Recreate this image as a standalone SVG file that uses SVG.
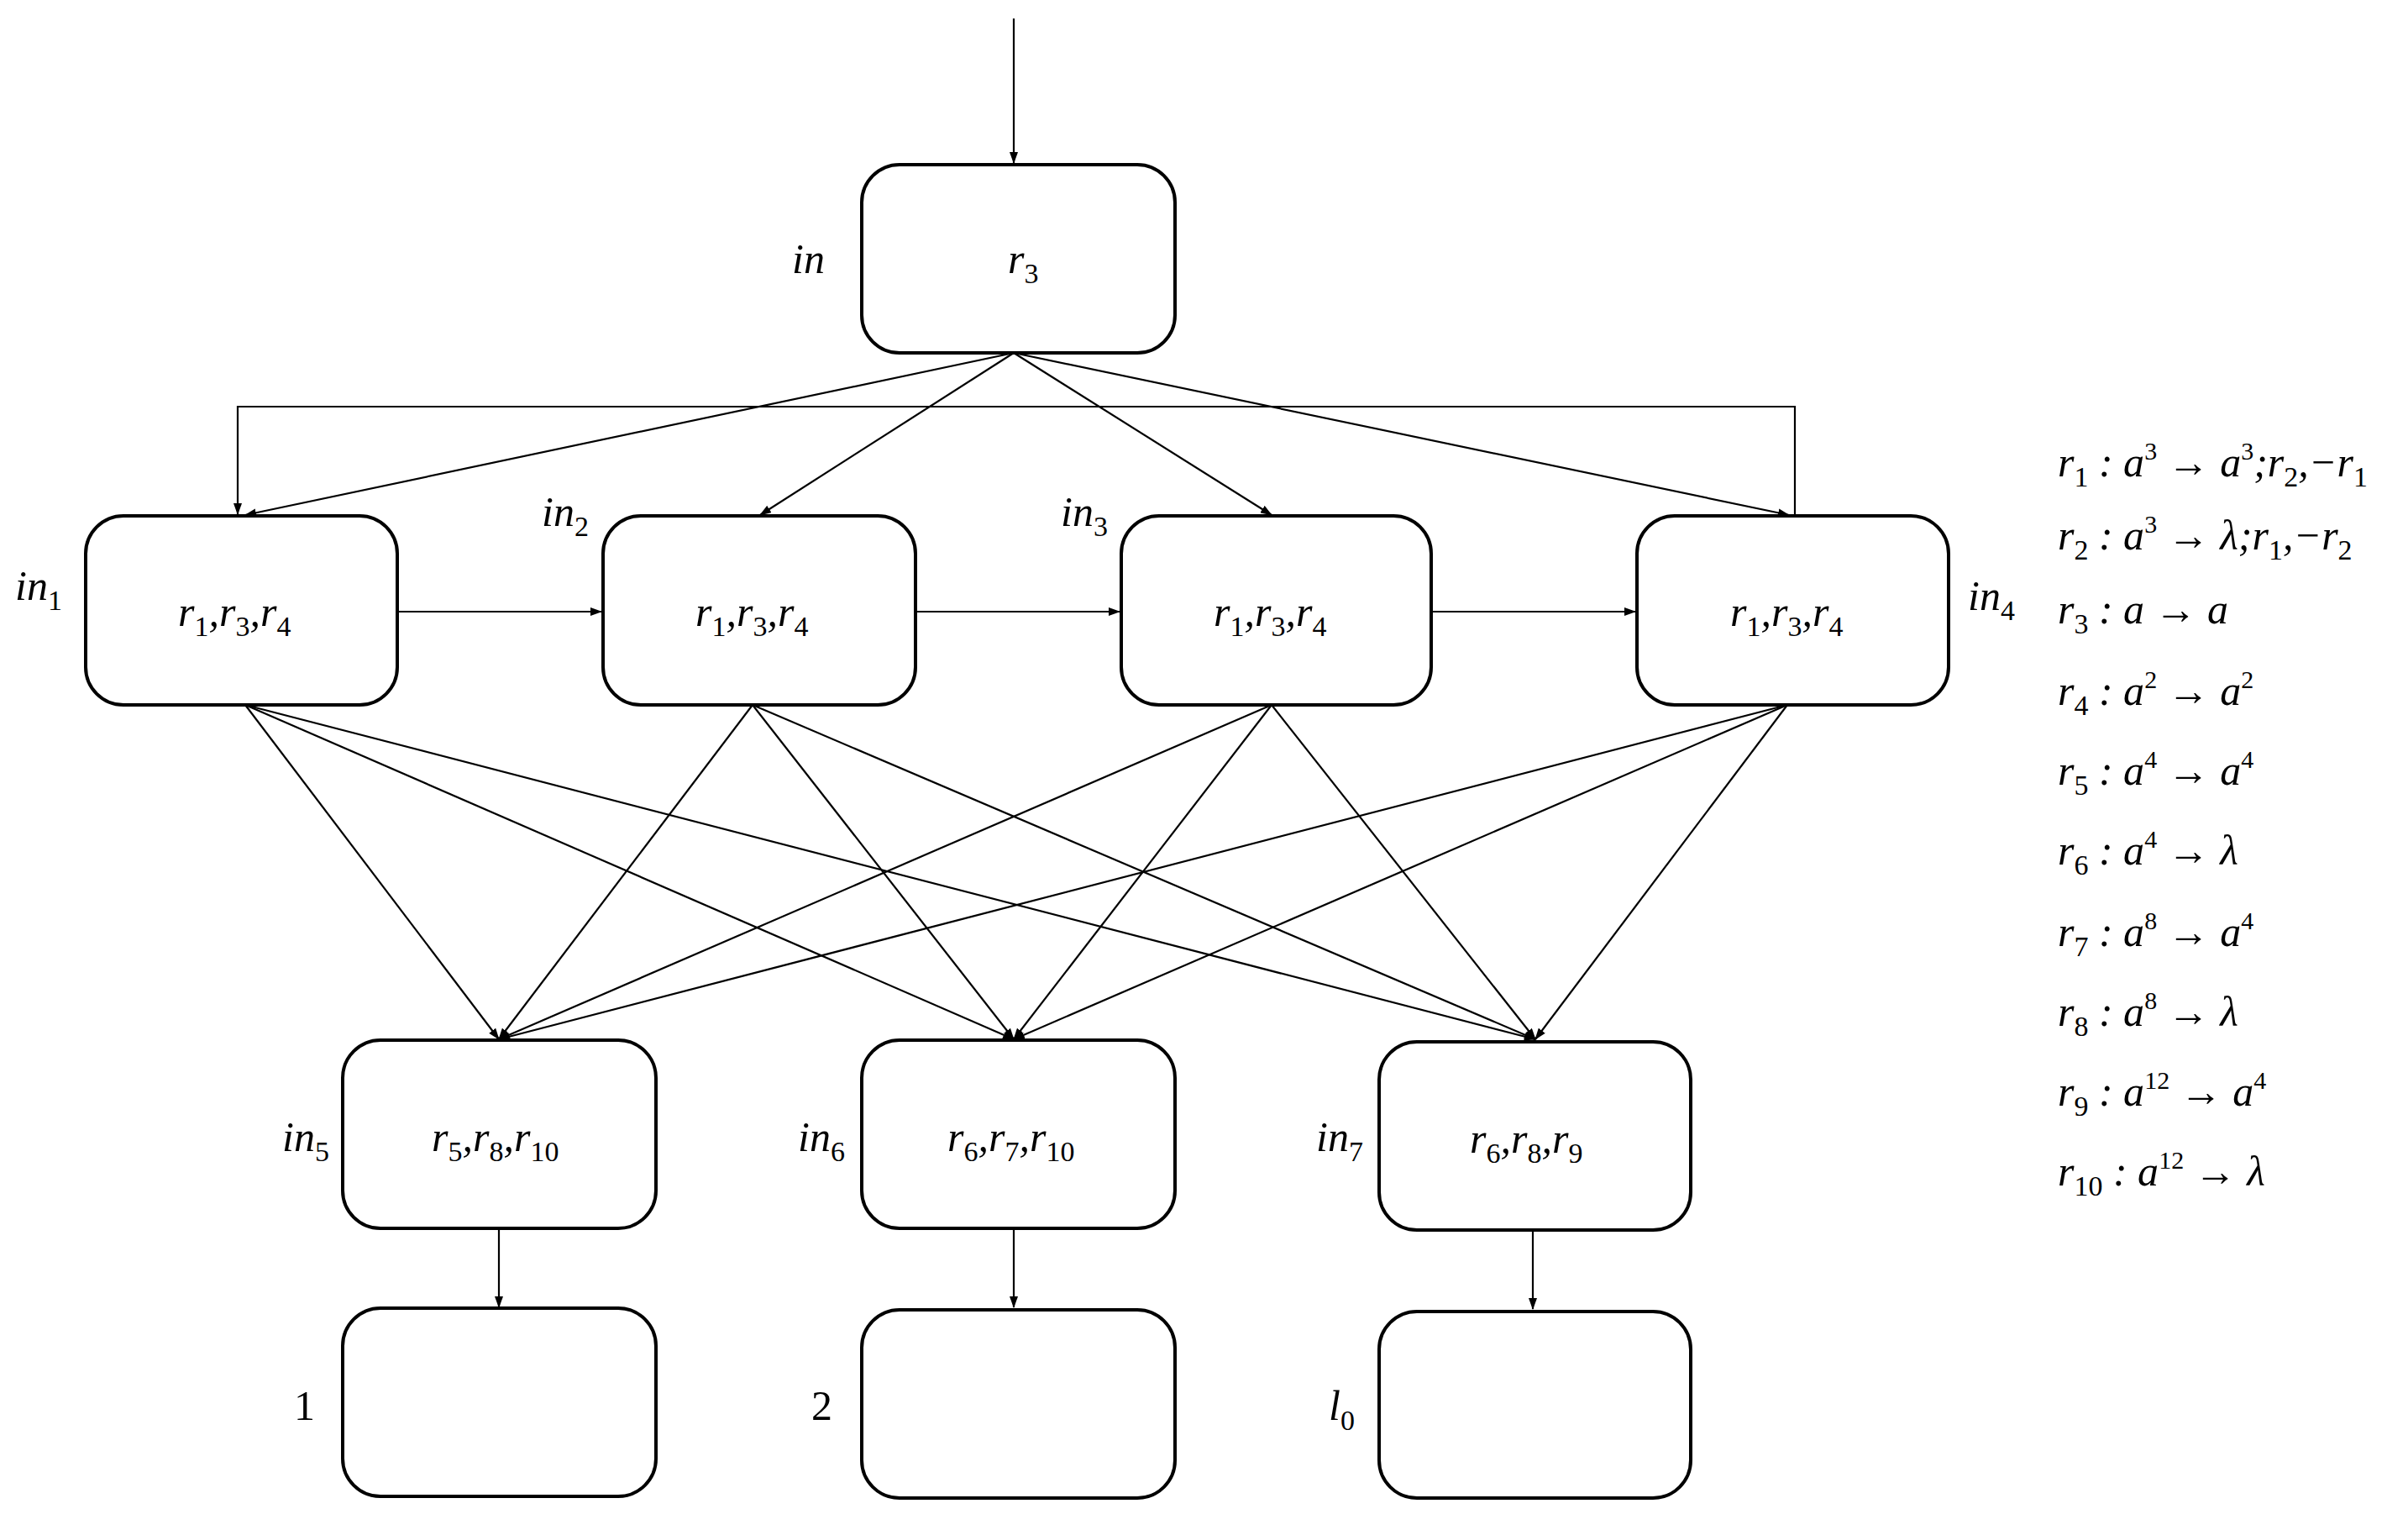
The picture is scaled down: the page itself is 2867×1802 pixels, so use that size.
<svg xmlns="http://www.w3.org/2000/svg" width="2867" height="1802" viewBox="0 0 2867 1802">
<style>
.b{fill:#fff;stroke:#000;stroke-width:4}
.c line,.c path{stroke:#000;stroke-width:2.2;fill:none}
text{font-family:"Liberation Serif",serif;font-style:italic;font-size:50px;fill:#000}
.m{text-anchor:middle}
.s{font-style:normal;font-size:34px}
.u{font-style:normal;font-size:30px}
.n{font-style:normal}
</style>
<defs><marker id="a" markerWidth="14" markerHeight="10" refX="13" refY="5" orient="auto" markerUnits="userSpaceOnUse"><path d="M0,0L14,5L0,10z" fill="#000"/></marker></defs>
<g class="c" marker-end="url(#a)">
<line x1="1207" y1="22" x2="1207" y2="194" marker-end="url(#a)"/>
<line x1="1207" y1="420" x2="292" y2="613" marker-end="url(#a)"/>
<line x1="1207" y1="420" x2="905" y2="613" marker-end="url(#a)"/>
<line x1="1207" y1="420" x2="1514" y2="613" marker-end="url(#a)"/>
<line x1="1207" y1="420" x2="2130" y2="613" marker-end="url(#a)"/>
<path d="M2137,614V484H283V612" marker-end="url(#a)"/>
<line x1="473" y1="728" x2="716" y2="728" marker-end="url(#a)"/>
<line x1="1090" y1="728" x2="1333" y2="728" marker-end="url(#a)"/>
<line x1="1704" y1="728" x2="1947" y2="728" marker-end="url(#a)"/>
<line x1="292" y1="839" x2="594" y2="1237" marker-end="url(#a)"/>
<line x1="292" y1="839" x2="1207" y2="1237" marker-end="url(#a)"/>
<line x1="292" y1="839" x2="1828" y2="1237" marker-end="url(#a)"/>
<line x1="896" y1="839" x2="594" y2="1237" marker-end="url(#a)"/>
<line x1="896" y1="839" x2="1207" y2="1237" marker-end="url(#a)"/>
<line x1="896" y1="839" x2="1828" y2="1237" marker-end="url(#a)"/>
<line x1="1514" y1="839" x2="594" y2="1237" marker-end="url(#a)"/>
<line x1="1514" y1="839" x2="1207" y2="1237" marker-end="url(#a)"/>
<line x1="1514" y1="839" x2="1828" y2="1237" marker-end="url(#a)"/>
<line x1="2128" y1="839" x2="594" y2="1237" marker-end="url(#a)"/>
<line x1="2128" y1="839" x2="1207" y2="1237" marker-end="url(#a)"/>
<line x1="2128" y1="839" x2="1828" y2="1237" marker-end="url(#a)"/>
<line x1="594" y1="1462" x2="594" y2="1556" marker-end="url(#a)"/>
<line x1="1207" y1="1462" x2="1207" y2="1556" marker-end="url(#a)"/>
<line x1="1825" y1="1462" x2="1825" y2="1558" marker-end="url(#a)"/>
</g>
<g id="in"><rect class="b" x="1026" y="196" width="373" height="224" rx="45"/><text x="982" y="325" text-anchor="end">in</text><text x="1200" y="325">r<tspan class="s" dy="12">3</tspan></text></g>
<g id="in1"><rect class="b" x="102" y="614" width="371" height="225" rx="45"/><text x="18" y="714">in<tspan class="s" dy="12">1</tspan></text><text x="212" y="745">r<tspan class="s" dy="12">1</tspan><tspan dy="-12">,r</tspan><tspan class="s" dy="12">3</tspan><tspan dy="-12">,r</tspan><tspan class="s" dy="12">4</tspan></text></g>
<g id="in2"><rect class="b" x="718" y="614" width="372" height="225" rx="45"/><text x="645" y="626">in<tspan class="s" dy="12">2</tspan></text><text x="828" y="745">r<tspan class="s" dy="12">1</tspan><tspan dy="-12">,r</tspan><tspan class="s" dy="12">3</tspan><tspan dy="-12">,r</tspan><tspan class="s" dy="12">4</tspan></text></g>
<g id="in3"><rect class="b" x="1335" y="614" width="369" height="225" rx="45"/><text x="1263" y="626">in<tspan class="s" dy="12">3</tspan></text><text x="1445" y="745">r<tspan class="s" dy="12">1</tspan><tspan dy="-12">,r</tspan><tspan class="s" dy="12">3</tspan><tspan dy="-12">,r</tspan><tspan class="s" dy="12">4</tspan></text></g>
<g id="in4"><rect class="b" x="1949" y="614" width="371" height="225" rx="45"/><text x="2343" y="726">in<tspan class="s" dy="12">4</tspan></text><text x="2060" y="745">r<tspan class="s" dy="12">1</tspan><tspan dy="-12">,r</tspan><tspan class="s" dy="12">3</tspan><tspan dy="-12">,r</tspan><tspan class="s" dy="12">4</tspan></text></g>
<g id="in5"><rect class="b" x="408" y="1238" width="373" height="224" rx="45"/><text x="336" y="1370">in<tspan class="s" dy="12">5</tspan></text><text x="514" y="1370">r<tspan class="s" dy="12">5</tspan><tspan dy="-12">,r</tspan><tspan class="s" dy="12">8</tspan><tspan dy="-12">,r</tspan><tspan class="s" dy="12">10</tspan></text></g>
<g id="in6"><rect class="b" x="1026" y="1238" width="373" height="224" rx="45"/><text x="950" y="1370">in<tspan class="s" dy="12">6</tspan></text><text x="1128" y="1370">r<tspan class="s" dy="12">6</tspan><tspan dy="-12">,r</tspan><tspan class="s" dy="12">7</tspan><tspan dy="-12">,r</tspan><tspan class="s" dy="12">10</tspan></text></g>
<g id="in7"><rect class="b" x="1642" y="1240" width="371" height="224" rx="45"/><text x="1567" y="1370">in<tspan class="s" dy="12">7</tspan></text><text x="1750" y="1372">r<tspan class="s" dy="12">6</tspan><tspan dy="-12">,r</tspan><tspan class="s" dy="12">8</tspan><tspan dy="-12">,r</tspan><tspan class="s" dy="12">9</tspan></text></g>
<g id="out1"><rect class="b" x="408" y="1557" width="373" height="224" rx="45"/><text class="n" x="350" y="1690">1</text></g>
<g id="out2"><rect class="b" x="1026" y="1559" width="373" height="224" rx="45"/><text class="n" x="966" y="1690">2</text></g>
<g id="out3"><rect class="b" x="1642" y="1561" width="371" height="222" rx="45"/><text x="1582" y="1690">l<tspan class="s" dy="12">0</tspan></text></g>
<g id="rules">
<text x="2450" y="567">r<tspan class="s" dy="12">1</tspan><tspan dy="-12"> : a</tspan><tspan class="u" dy="-20">3</tspan><tspan dy="20"> → a</tspan><tspan class="u" dy="-20">3</tspan><tspan dy="20">;r</tspan><tspan class="s" dy="12">2</tspan><tspan dy="-12">,−r</tspan><tspan class="s" dy="12">1</tspan></text>
<text x="2450" y="654">r<tspan class="s" dy="12">2</tspan><tspan dy="-12"> : a</tspan><tspan class="u" dy="-20">3</tspan><tspan dy="20"> → λ;r</tspan><tspan class="s" dy="12">1</tspan><tspan dy="-12">,−r</tspan><tspan class="s" dy="12">2</tspan></text>
<text x="2450" y="742">r<tspan class="s" dy="12">3</tspan><tspan dy="-12"> : a → a</tspan></text>
<text x="2450" y="839">r<tspan class="s" dy="12">4</tspan><tspan dy="-12"> : a</tspan><tspan class="u" dy="-20">2</tspan><tspan dy="20"> → a</tspan><tspan class="u" dy="-20">2</tspan></text>
<text x="2450" y="934">r<tspan class="s" dy="12">5</tspan><tspan dy="-12"> : a</tspan><tspan class="u" dy="-20">4</tspan><tspan dy="20"> → a</tspan><tspan class="u" dy="-20">4</tspan></text>
<text x="2450" y="1029">r<tspan class="s" dy="12">6</tspan><tspan dy="-12"> : a</tspan><tspan class="u" dy="-20">4</tspan><tspan dy="20"> → λ</tspan></text>
<text x="2450" y="1126">r<tspan class="s" dy="12">7</tspan><tspan dy="-12"> : a</tspan><tspan class="u" dy="-20">8</tspan><tspan dy="20"> → a</tspan><tspan class="u" dy="-20">4</tspan></text>
<text x="2450" y="1221">r<tspan class="s" dy="12">8</tspan><tspan dy="-12"> : a</tspan><tspan class="u" dy="-20">8</tspan><tspan dy="20"> → λ</tspan></text>
<text x="2450" y="1316">r<tspan class="s" dy="12">9</tspan><tspan dy="-12"> : a</tspan><tspan class="u" dy="-20">12</tspan><tspan dy="20"> → a</tspan><tspan class="u" dy="-20">4</tspan></text>
<text x="2450" y="1411">r<tspan class="s" dy="12">10</tspan><tspan dy="-12"> : a</tspan><tspan class="u" dy="-20">12</tspan><tspan dy="20"> → λ</tspan></text>
</g>
</svg>
